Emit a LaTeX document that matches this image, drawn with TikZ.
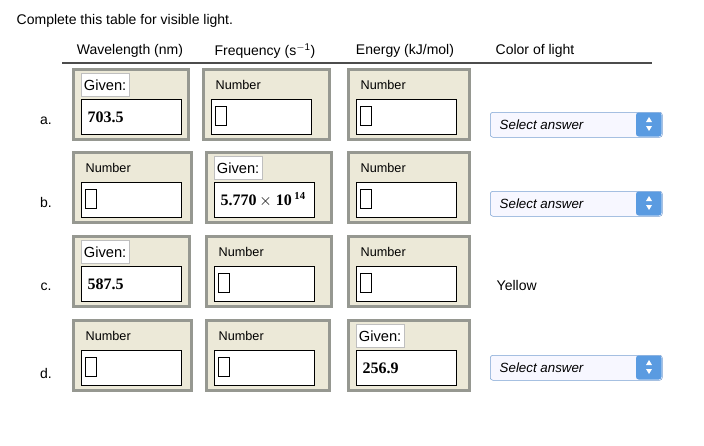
\documentclass[tikz,border=0pt]{standalone}
\usepackage{fontspec}
\setmainfont{Liberation Sans}
\newfontfamily\valfont{Liberation Serif}
\definecolor{beige}{RGB}{236,233,216}
\definecolor{frame}{RGB}{150,152,145}
\definecolor{selblue}{RGB}{90,155,225}
\definecolor{selbd}{RGB}{120,160,210}
\tikzset{
 outer/.style={draw=frame,line width=2.2pt,fill=beige,anchor=north west,inner sep=0,minimum width=#1},
 inbox/.style={draw=black,line width=0.6pt,fill=white,anchor=north west,minimum width=100*0.75pt,minimum height=35*0.75pt,inner sep=0},
 giv/.style={draw=black!25,fill=white,anchor=north west,font=\fontsize{11}{13}\selectfont,inner sep=2pt,minimum height=23*0.75pt},
 numlab/.style={anchor=west,font=\fontsize{9.5}{11}\selectfont},
 ph/.style={draw=black,line width=0.4pt,fill=white,minimum width=8pt,minimum height=14pt,inner sep=0},
 val/.style={anchor=west,font=\valfont\bfseries\fontsize{12}{14}\selectfont},
 hd/.style={font=\fontsize{10.5}{12}\selectfont},
 sel/.style={draw=selbd,rounded corners=2pt,fill=blue!3,anchor=north west,minimum width=172*0.75pt,minimum height=25*0.75pt,inner sep=0},
}
\newcommand{\numcell}[4]{% name, x, y, width
 \node[outer=#4*0.75pt,minimum height=70*0.75pt] (#1) at (#2,#3) {};
 \node[numlab] (#1l) at (#2+9,#3+17) {Number};
 \node[inbox] (#1i) at (#2+9,#3+31) {};
 \node[ph,anchor=west] (#1p) at (#2+13,#3+48) {};
}
\newcommand{\givcell}[5]{% name, x, y, width, value
 \node[outer=#4*0.75pt,minimum height=70*0.75pt] (#1) at (#2,#3) {};
 \node[giv] (#1l) at (#2+9,#3+5) {Given:};
 \node[inbox] (#1i) at (#2+9,#3+31) {};
 \node[val] (#1v) at (#2+11,#3+49) {#5};
}
\begin{document}
\begin{tikzpicture}[x=0.75pt,y=-0.75pt]
\useasboundingbox[fill=white] (0,0) rectangle (704,446);
\node[anchor=west,hd] (title) at (12,21) {Complete this table for visible light.};
\node[hd] (h1) at (130,51) {Wavelength (nm)};
\node[hd] (h2) at (265,51) {Frequency (s\textsuperscript{$-$1})};
\node[hd] (h3) at (405,51) {Energy (kJ/mol)};
\node[hd] (h4) at (535,51) {Color of light};
\coordinate (l1) at (62,63); \coordinate (l2) at (652,63);
\draw[line width=0.8pt,black!70] (l1) -- (l2);
\node[hd] (ra) at (46,121) {a.};
\node[hd] (rb) at (46,202) {b.};
\node[hd] (rc) at (46,287) {c.};
\node[hd] (rd) at (46,373) {d.};
% row a
\givcell{a1}{72}{68}{115}{703.5}
\numcell{a2}{202}{68}{126}
\numcell{a3}{347}{68}{121}
% row b
\numcell{b1}{72}{151}{118}
\givcell{b2}{205}{151}{125}{5.770\,$\times$ 10\,\textsuperscript{14}}
\numcell{b3}{347}{151}{121}
% row c
\givcell{c1}{72}{235}{116}{587.5}
\numcell{c2}{205}{235}{125}
\numcell{c3}{347}{235}{121}
% row d
\numcell{d1}{72}{319}{118}
\numcell{d2}{205}{319}{123}
\givcell{d3}{347}{319}{121}{256.9}
% color column
\foreach \n/\y in {sa/112,sb/191,sd/355}{
 \node[sel] (\n) at (490,\y) {};
 \node[anchor=west,font=\itshape\fontsize{10}{12}\selectfont] (\n t) at (495,\y+12.5) {Select answer};
 \fill[selblue,rounded corners=2pt] (636,\y+0.5) rectangle (661.5,\y+24.5);
 \fill[white] (646,\y+10) -- (652,\y+10) -- (649,\y+5) -- cycle;
 \fill[white] (646,\y+14) -- (652,\y+14) -- (649,\y+19) -- cycle;
}
\node[anchor=west,hd] (yel) at (492,285) {Yellow};
\end{tikzpicture}
\end{document}
